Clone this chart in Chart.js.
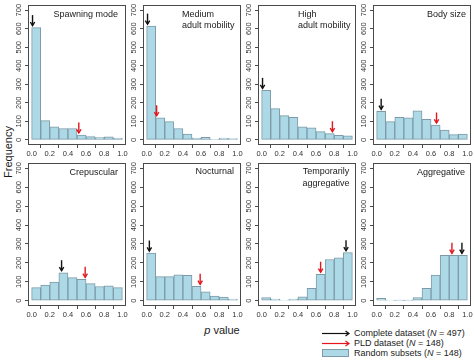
<!DOCTYPE html>
<html><head><meta charset="utf-8">
<script src="https://cdn.jsdelivr.net/npm/chart.js@4"></script>
<style>
html,body{margin:0;padding:0;background:#fff;}
#fig{position:relative;width:474px;height:360px;overflow:hidden;font-family:'Liberation Sans',Arial,sans-serif;color:#1a1a1a;}
#fig canvas{position:absolute;}
.lbl{position:absolute;white-space:nowrap;line-height:1;}
</style></head><body>
<div id="fig">
  <div class="lbl" style="font-size:11px;left:8px;top:152px;transform:translate(-50%,-50%) rotate(-90deg);">Frequency</div>
  <div class="lbl" style="font-size:11px;left:222px;top:330px;transform:translate(-50%,-50%);"><i>p</i> value</div>
  <canvas id="legsym" width="36" height="36" style="left:318px;top:326px"></canvas>
  <div class="lbl" style="font-size:9px;left:354px;top:333px;transform:translateY(-50%)">Complete dataset (<i>N</i> = 497)</div>
  <div class="lbl" style="font-size:9px;left:354px;top:343px;transform:translateY(-50%)">PLD dataset (<i>N</i> = 148)</div>
  <div class="lbl" style="font-size:9px;left:354px;top:353px;transform:translateY(-50%)">Random subsets (<i>N</i> = 148)</div>
</div>
<script>
// ---------- data ----------
const categories = ['Spawning mode','Medium adult mobility','High adult mobility','Body size','Crepuscular','Nocturnal','Temporarily aggregative','Aggregative'];
const titleLines = [['Spawning mode'],['Medium','adult mobility'],['High','adult mobility'],['Body size'],['Crepuscular'],['Nocturnal'],['Temporarily','aggregative'],['Aggregative']];
const binMids = [0.05,0.15,0.25,0.35,0.45,0.55,0.65,0.75,0.85,0.95];
const spawningMode      = [606,104,70,61,61,26,17,12,16,9];
const mediumMobility    = [614,119,98,61,31,9,14,3,10,7];
const highMobility      = [267,168,131,122,70,65,44,33,24,22];
const bodySize          = [154,98,122,119,157,110,80,52,28,31];
const crepuscular       = [69,82,99,148,122,113,90,75,78,69];
const nocturnal         = [252,127,127,137,134,76,47,24,19,9];
const tempAggregative   = [16,9,3,9,21,65,140,218,227,254];
const aggregative       = [12,3,2,2,16,65,136,240,240,240];
const series = [spawningMode,mediumMobility,highMobility,bodySize,crepuscular,nocturnal,tempAggregative,aggregative];
const completeP = [0.01,0.01,0.01,0.05,0.33,0.03,0.93,0.94]; // black arrows
const pldP      = [0.52,0.11,0.78,0.66,0.59,0.59,0.65,0.83]; // red arrows
const xTicks = [0,0.2,0.4,0.6,0.8,1.0];
const yTicks = [0,100,200,300,400,500,600,700];

// ---------- layout / style ----------
const FONT = "'Liberation Sans', Arial, sans-serif";
const BAR_FILL = '#add8e6', BAR_EDGE = '#7d9aa8', FRAME = '#4a4a4a', TXT = '#1a1a1a';
const BLACK = '#111111', RED = '#e3161d';
const boxW = 98, colX = [28,143,258,373], rowY = [5,163], rowH = [140,143];
const PADL = 24, PADR = 8, PADT = 4, PADB = 16;
// title placement: [align, offset] relative to box (right align -> from right edge, left -> from left edge, center -> from center)
const titlePos = [['right',8,10],['left',39,9.5],['left',40,9.5],['right',5,10],['right',8,10],['right',7,9],['center',19,9],['right',6,10]];

const fig = document.getElementById('fig');

function drawArrow(ctx, x, yTail, yTip, color, lw) {
  ctx.save();
  ctx.strokeStyle = color; ctx.lineWidth = lw; ctx.lineCap = 'butt';
  ctx.beginPath(); ctx.moveTo(x, yTail); ctx.lineTo(x, yTip); ctx.stroke();
  ctx.beginPath(); ctx.moveTo(x - 2.2, yTip - 3.6); ctx.lineTo(x, yTip); ctx.lineTo(x + 2.2, yTip - 3.6); ctx.stroke();
  ctx.restore();
}

const panelPlugin = {
  id: 'panelDecor',
  afterDatasetsDraw(chart) {
    const idx = chart.options.plugins.panelDecor.idx;
    const ctx = chart.ctx, a = chart.chartArea;
    const xs = chart.scales.x, ys = chart.scales.y;
    // frame
    ctx.save();
    ctx.strokeStyle = FRAME; ctx.lineWidth = 1;
    ctx.strokeRect(Math.round(a.left) + 0.5, Math.round(a.top) + 0.5, Math.round(a.right - a.left) - 1, Math.round(a.bottom - a.top) - 1);
    // y tick labels, rotated
    ctx.fillStyle = '#333'; ctx.font = '7.5px ' + FONT;
    ctx.textAlign = 'center'; ctx.textBaseline = 'middle';
    yTicks.forEach(v => {
      const y = ys.getPixelForValue(v);
      ctx.save(); ctx.translate(a.left - 9.5, y); ctx.rotate(-Math.PI / 2);
      ctx.fillText(String(v), 0, 0); ctx.restore();
    });
    // title
    ctx.fillStyle = TXT; ctx.font = '9px ' + FONT; ctx.textBaseline = 'middle';
    const [al, off, y0] = titlePos[idx];
    let tx;
    if (al === 'right') tx = a.right - off; else if (al === 'left') tx = a.left + off; else tx = (a.left + a.right) / 2 + off;
    ctx.textAlign = al;
    titleLines[idx].forEach((t, k) => ctx.fillText(t, tx, a.top + y0 + k * 11.5));
    // arrows
    const vals = series[idx];
    [[completeP[idx], BLACK], [pldP[idx], RED]].forEach(([p, col]) => {
      const b = Math.min(9, Math.floor(p * 10));
      const x = xs.getPixelForValue(p);
      const tip = ys.getPixelForValue(vals[b]) - 2;
      drawArrow(ctx, x, tip - 10.5, tip, col, 1.4);
    });
    ctx.restore();
  }
};

series.forEach((vals, i) => {
  const col = i % 4, row = Math.floor(i / 4);
  const bx = colX[col], by = rowY[row], bh = rowH[row];
  const cv = document.createElement('canvas');
  const cw = boxW + PADL + PADR, ch = bh + PADT + PADB;
  cv.width = cw; cv.height = ch;
  cv.style.left = (bx - PADL) + 'px'; cv.style.top = (by - PADT) + 'px';
  cv.style.width = cw + 'px'; cv.style.height = ch + 'px';
  fig.appendChild(cv);
  new Chart(cv, {
    type: 'bar',
    data: { datasets: [{
      label: categories[i],
      data: binMids.map((m, k) => ({ x: m, y: vals[k] })),
      backgroundColor: BAR_FILL, borderColor: BAR_EDGE, borderWidth: 1, borderSkipped: false,
      barPercentage: 1, categoryPercentage: 1
    }]},
    options: {
      responsive: false, animation: false, devicePixelRatio: 1,
      layout: { padding: { left: 0, right: PADR, top: PADT, bottom: 0 } },
      plugins: { legend: { display: false }, tooltip: { enabled: false }, panelDecor: { idx: i } },
      scales: {
        x: {
          type: 'linear', min: -0.04, max: 1.04, offset: false,
          afterBuildTicks: s => { s.ticks = xTicks.map(v => ({ value: v })); },
          afterFit: s => { s.height = PADB; },
          ticks: { callback: v => Number(v).toFixed(1), font: { size: 7.5, family: FONT }, color: '#333', padding: 1, maxRotation: 0, minRotation: 0, autoSkip: false },
          grid: { display: true, drawOnChartArea: false, drawTicks: true, tickLength: 3, color: FRAME, lineWidth: 1 },
          border: { display: false }
        },
        y: {
          type: 'linear', min: -28, max: 728,
          afterBuildTicks: s => { s.ticks = yTicks.map(v => ({ value: v })); },
          afterFit: s => { s.width = PADL; },
          ticks: { display: false },
          grid: { display: true, drawOnChartArea: false, drawTicks: true, tickLength: 3, color: FRAME, lineWidth: 1 },
          border: { display: false }
        }
      }
    },
    plugins: [panelPlugin]
  });
});

// legend symbols
(function () {
  const c = document.getElementById('legsym').getContext('2d');
  function hArrow(y, col) {
    c.strokeStyle = col; c.lineWidth = 1.2;
    c.beginPath(); c.moveTo(4, y); c.lineTo(31, y); c.stroke();
    c.beginPath(); c.moveTo(27.5, y - 2.5); c.lineTo(31, y); c.lineTo(27.5, y + 2.5); c.stroke();
  }
  hArrow(7.5, BLACK);
  hArrow(17.5, RED);
  c.fillStyle = BAR_FILL; c.fillRect(4, 23, 27, 8);
  c.strokeStyle = BAR_EDGE; c.lineWidth = 1; c.strokeRect(4.5, 23.5, 26, 7);
})();
</script>
</body></html>
